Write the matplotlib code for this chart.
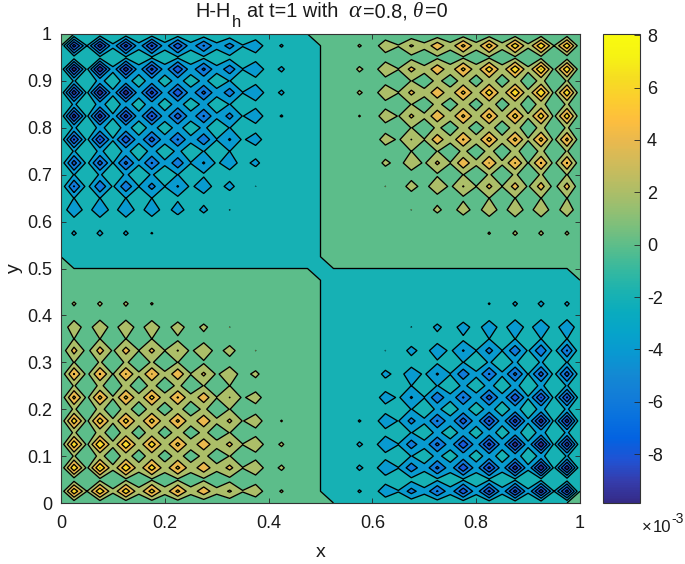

import numpy as np
import matplotlib
matplotlib.use("Agg")
import matplotlib.pyplot as plt
from matplotlib.cm import ScalarMappable
from matplotlib.colors import LinearSegmentedColormap, Normalize

plt.rcParams["font.family"] = "Liberation Sans"

W, H = 685, 564
AX_BOX = (61, 580, 34, 503)   # left, right, top, bottom in pixels
CB_BOX = (603, 640, 34, 503)

# Peak sizes (units of 1e-3), row 0 next to the outer y edge, col 0 next to the outer x edge
peaks_neg = [
    [9.0, 9.2, 8.9, 8.5, 7.6, 6.2, 4.9, 3.5, 2.2, 0.8],
    [9.5, 9.87, 9.3, 8.6, 7.8, 6.5, 5.3, 3.8, 2.4, 0.8],
    [9.4, 9.7, 9.5, 8.8, 7.8, 6.6, 5.1, 3.8, 2.35, 0.8],
    [9.2, 9.2, 9.0, 8.3, 7.2, 6.2, 4.7, 3.5, 2.15, 0.8],
    [8.3, 8.1, 7.7, 7.0, 6.2, 5.6, 4.2, 3.1, 1.5, 0.6],
    [7.1, 7.0, 6.6, 6.2, 5.4, 4.2, 3.1, 2.6, 1.0, 0.5],
    [6.2, 5.8, 5.5, 4.7, 4.15, 3.2, 2.6, 2.01, 0.8, 0.5],
    [3.9, 3.9, 3.8, 3.5, 3.0, 2.5, 2.02, 1.0, 0.6, 0.5],
    [2.3, 2.4, 2.3, 2.1, 1.5, 1.0, 0.7, 0.5, 0.5, 0.5],
    [0.7, 0.7, 0.7, 0.6, 0.5, 0.5, 0.5, 0.5, 0.5, 0.5],
]
peaks_pos = [
    [7.6, 7.7, 7.4, 7.0, 6.6, 5.4, 4.3, 3.4, 2.2, 0.8],
    [7.7, 8.05, 7.7, 7.2, 6.6, 5.4, 4.6, 3.6, 2.4, 0.8],
    [7.6, 8.0, 7.7, 7.2, 6.6, 5.4, 4.5, 3.6, 2.3, 0.8],
    [7.3, 7.2, 6.9, 6.8, 6.5, 5.6, 4.4, 3.2, 2.1, 0.7],
    [6.6, 6.7, 6.6, 6.8, 6.2, 5.3, 4.05, 3.0, 1.0, 0.5],
    [6.2, 6.2, 6.1, 6.05, 5.5, 4.4, 3.3, 2.5, 1.0, 0.5],
    [4.8, 4.9, 4.8, 4.5, 4.1, 3.6, 2.8, 2.01, 0.8, 0.5],
    [3.4, 3.6, 3.6, 3.5, 3.1, 2.5, 2.01, 1.0, 0.6, 0.5],
    [2.25, 2.3, 2.3, 2.15, 1.5, 1.0, 0.7, 0.5, 0.5, 0.5],
    [0.7, 0.7, 0.7, 0.6, 0.5, 0.5, 0.5, 0.5, 0.5, 0.5],
]
# Values halfway between neighbouring peaks in a row
between_cols = [
    [2.0, 2.3, 2.5, 2.6, 2.6, 2.5, 2.1, 0.8, 0.5],
    [1.5, 2.3, 2.6, 2.7, 2.7, 2.5, 2.05, 0.9, 0.5],
    [1.5, 2.3, 2.6, 2.7, 2.7, 2.5, 2.05, 0.9, 0.5],
    [1.5, 2.2, 2.5, 2.6, 2.6, 2.3, 1.9, 0.8, 0.5],
    [1.4, 2.1, 2.4, 2.5, 2.4, 2.05, 1.7, 0.7, 0.5],
    [1.3, 1.9, 2.2, 2.3, 2.05, 1.7, 1.2, 0.6, 0.5],
    [1.2, 1.7, 2.02, 2.02, 1.6, 1.2, 0.9, 0.5, 0.5],
    [0.9, 1.0, 1.0, 1.0, 0.9, 0.8, 0.6, 0.5, 0.5],
    [0.6, 0.6, 0.6, 0.6, 0.5, 0.5, 0.5, 0.5, 0.5],
    [0.5, 0.5, 0.5, 0.5, 0.5, 0.5, 0.5, 0.5, 0.5],
]
# Values halfway between neighbouring peaks in a column
between_rows = [
    [1.0, 1.4, 1.6, 1.7, 1.7, 1.6, 1.4, 1.0, 0.6, 0.5],
    [2.1, 2.4, 2.6, 2.7, 2.6, 2.4, 2.05, 1.2, 0.7, 0.5],
    [2.2, 2.5, 2.6, 2.7, 2.6, 2.4, 2.05, 1.2, 0.7, 0.5],
    [2.2, 2.4, 2.5, 2.5, 2.5, 2.3, 2.05, 1.1, 0.6, 0.5],
    [2.1, 2.3, 2.4, 2.4, 2.3, 2.05, 2.02, 0.9, 0.5, 0.5],
    [2.05, 2.15, 2.2, 2.15, 2.03, 1.7, 1.2, 0.7, 0.5, 0.5],
    [2.02, 2.02, 2.02, 2.01, 1.6, 1.2, 0.9, 0.5, 0.5, 0.5],
    [0.9, 0.9, 0.9, 0.8, 0.6, 0.6, 0.5, 0.5, 0.5, 0.5],
    [0.6, 0.6, 0.6, 0.5, 0.5, 0.5, 0.5, 0.5, 0.5, 0.5],
]
# Values in the hollows between four peaks
between_four = [
    [0.7, 0.9, 1.0, 1.0, 1.0, 0.9, 0.7, 0.5, 0.5],
    [0.9, 1.2, 1.3, 1.3, 1.2, 1.1, 0.8, 0.5, 0.5],
    [0.9, 1.2, 1.3, 1.3, 1.2, 1.1, 0.8, 0.5, 0.5],
    [0.9, 1.2, 1.3, 1.3, 1.2, 1.0, 0.7, 0.5, 0.5],
    [0.9, 1.1, 1.2, 1.2, 1.1, 0.8, 0.6, 0.5, 0.5],
    [0.8, 1.0, 1.1, 1.0, 0.8, 0.6, 0.5, 0.5, 0.5],
    [0.6, 0.7, 0.7, 0.7, 0.5, 0.5, 0.5, 0.5, 0.5],
    [0.5, 0.5, 0.5, 0.5, 0.5, 0.5, 0.5, 0.5, 0.5],
    [0.5, 0.5, 0.5, 0.5, 0.5, 0.5, 0.5, 0.5, 0.5],
]
background = 0.5
levels = [-10, -8, -6, -4, -2, 0, 2, 4, 6, 8, 10]
z_min, z_max = -9.87, 8.05
x_ticks = [0, 0.2, 0.4, 0.6, 0.8, 1]
y_ticks = [0, 0.1, 0.2, 0.3, 0.4, 0.5, 0.6, 0.7, 0.8, 0.9, 1]
cb_ticks = [-8, -6, -4, -2, 0, 2, 4, 6, 8]

parula = LinearSegmentedColormap.from_list("parula", [
    (0.2081, 0.1663, 0.5292), (0.2081, 0.2386, 0.6771), (0.1253, 0.3242, 0.8303),
    (0.0117, 0.3875, 0.8820), (0.0329, 0.4430, 0.8720), (0.0723, 0.4887, 0.8467),
    (0.0749, 0.5375, 0.8263), (0.0343, 0.5966, 0.8199), (0.0231, 0.6418, 0.7913),
    (0.0384, 0.6743, 0.7436), (0.1133, 0.7015, 0.6859), (0.2178, 0.7250, 0.6193),
    (0.3482, 0.7424, 0.5473), (0.4871, 0.7491, 0.4840), (0.6099, 0.7473, 0.4337),
    (0.7184, 0.7411, 0.3905), (0.8185, 0.7327, 0.3498), (0.9139, 0.7258, 0.3063),
    (0.9938, 0.7455, 0.2403), (0.9880, 0.8066, 0.1794), (0.9626, 0.8705, 0.1309),
    (0.9661, 0.9514, 0.0755), (0.9763, 0.9831, 0.0538),
])


def quadrant(peaks):
    """Nodes of one quadrant, index 0 on the outer edge, index 20 on the midline."""
    q = np.full((21, 21), background)
    q[1::2, 1::2] = peaks
    q[1::2, 2:19:2] = between_cols
    q[2:19:2, 1::2] = between_rows
    q[2:19:2, 2:19:2] = between_four
    return q


neg = quadrant(peaks_neg)
pos = quadrant(peaks_pos)

# rows run from y=0 upward, columns from x=0
Z = np.zeros((41, 41))
Z[20:, :21] = -neg[::-1, :]
Z[20:, 20:] = pos[::-1, ::-1]
Z[:21, :21] = pos
Z[:21, 20:] = -neg[:, ::-1]

# the midlines sit on the zero contour, with cut corners where they end
Z[:, 20] = 0
Z[20, :] = 0
Z[20, 20] = -background
for r, c in [(40, 20), (0, 20), (20, 0), (20, 40), (40, 0), (0, 40)]:
    Z[r, c] = background
for r, c in [(40, 19), (0, 21), (21, 0), (19, 40), (40, 1), (39, 0), (0, 39), (1, 40)]:
    Z[r, c] = 0

grid = np.linspace(0, 1, 41)
X, Y = np.meshgrid(grid, grid)

norm = Normalize(z_min, z_max)
fill_colors = [parula(norm(v)) for v in levels[:-1]]


def box(b):
    left, right, top, bottom = b
    return [left / W, 1 - bottom / H, (right - left) / W, (bottom - top) / H]


fig = plt.figure(figsize=(W / 100, H / 100), dpi=100)
ax = fig.add_axes(box(AX_BOX))
cax = fig.add_axes(box(CB_BOX))

ax.contourf(X, Y, Z, levels=levels, colors=fill_colors)
ax.contour(X, Y, Z, levels=levels[1:-1], colors="k", linewidths=0.95, linestyles="solid")

ax.set_xlim(0, 1)
ax.set_ylim(0, 1)
ax.set_xticks(x_ticks, [f"{t:g}" for t in x_ticks])
ax.set_yticks(y_ticks, [f"{t:g}" for t in y_ticks])
ax.tick_params(direction="in", top=True, right=True, length=3.6, width=0.6,
               color="#262626", labelsize=13, labelcolor="#1a1a1a")
ax.tick_params(axis="x", pad=9)
ax.tick_params(axis="y", pad=6.5)
for s in ax.spines.values():
    s.set_linewidth(0.8)
    s.set_color("#333333")
ax.set_xlabel("x", fontsize=14, labelpad=8.5, color="#1a1a1a")
ax.set_ylabel("y", fontsize=14, labelpad=3, color="#1a1a1a")

# title pieces placed by pixel, the subscript and the serif greek letters are oversized
title_parts = [
    (195, 17, "H-H", {}),
    (232, 27, "h", {"fontsize": 12}),
    (247, 17, "at t=1 with", {}),
    (348, 17, "\u03b1", {"family": "Liberation Serif", "style": "italic", "fontsize": 17}),
    (363, 17, "=0.8,", {}),
    (413, 17, "\u03b8", {"family": "Liberation Serif", "style": "italic", "fontsize": 15}),
    (425, 17, "=0", {}),
]
for px, py, part, kw in title_parts:
    fig.text(px / W, 1 - py / H, part, va="baseline", ha="left", color="#1a1a1a",
             **{"fontsize": 14.3, **kw})

cb = fig.colorbar(ScalarMappable(norm=norm, cmap=parula), cax=cax)
cb.set_ticks(cb_ticks, labels=[str(t) for t in cb_ticks])
cb.ax.tick_params(direction="in", length=4, width=0.6, color="#262626",
                  labelsize=13, labelcolor="#1a1a1a", pad=5)
cb.outline.set_linewidth(0.8)
cb.outline.set_edgecolor("#333333")

# the colorbar's scale factor
fig.text(642 / W, 1 - 527 / H, "\u00d7", fontsize=12, color="#1a1a1a", va="center", ha="left")
fig.text(653 / W, 1 - 527 / H, "10", fontsize=12, color="#1a1a1a", va="center", ha="left")
fig.text(671 / W, 1 - 519 / H, "-3", fontsize=10, color="#1a1a1a", va="center", ha="left")

fig.savefig("out.png", dpi=100)
